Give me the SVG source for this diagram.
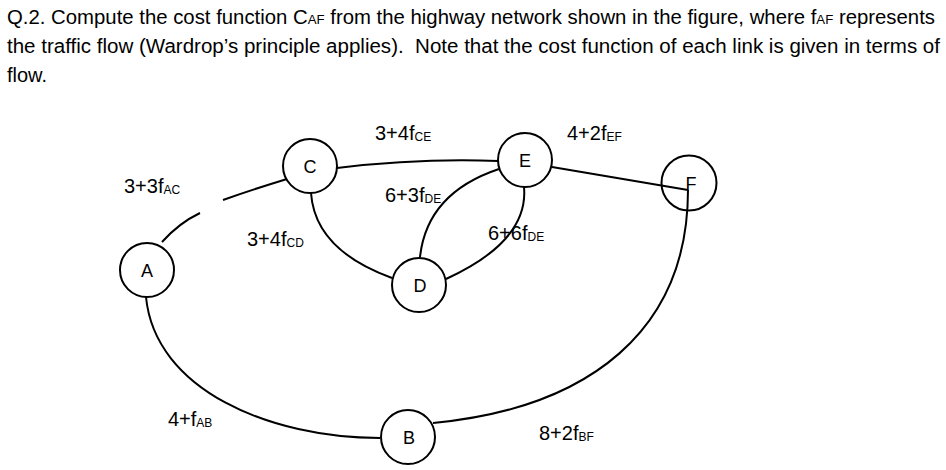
<svg xmlns="http://www.w3.org/2000/svg" width="946" height="470" viewBox="0 0 946 470">
<style>
text{font-family:"Liberation Sans",Arial,sans-serif;fill:#000}
.t{font-size:20px}
.ts{font-size:13px}
.lb{font-size:20px}
.sb{font-size:12px}
.nd{font-size:18px;text-anchor:middle}
circle{fill:#fff;stroke:#000;stroke-width:2}
.e{fill:none;stroke:#000;stroke-width:2}
</style>
<rect width="946" height="470" fill="#fff"/>
<g id="title">
<text class="t" x="7" y="24" textLength="928" lengthAdjust="spacingAndGlyphs">Q.2. Compute the cost function C<tspan class="ts">AF</tspan> from the highway network shown in the figure, where f<tspan class="ts">AF</tspan> represents</text>
<text class="t" x="7" y="53" textLength="933" lengthAdjust="spacingAndGlyphs" xml:space="preserve">the traffic flow (Wardrop’s principle applies).  Note that the cost function of each link is given in terms of</text>
<text class="t" x="7" y="82">flow.</text>
</g>
<g id="connectors">
<path class="e" d="M162,242 Q179,223 200,213"/>
<path class="e" d="M223,200 Q251,190 287,179"/>
<path class="e" d="M337,168 Q420,158 498,161"/>
<path class="e" d="M311,193 Q315,250 392,278"/>
<path class="e" d="M420,257 Q427,193 499,169"/>
<path class="e" d="M446,279 Q529,241 524,187"/>
<path class="e" d="M146,297 C155,390 270,438 380,438"/>
</g>
<g id="node-A"><circle cx="147" cy="270" r="27"/><text class="nd" x="147" y="276.5">A</text></g>
<g id="node-C"><circle cx="310" cy="166" r="27"/><text class="nd" x="310" y="172.5">C</text></g>
<g id="node-D"><circle cx="419" cy="285" r="27"/><text class="nd" x="420" y="291.5">D</text></g>
<g id="node-E"><circle cx="525" cy="160" r="27"/><text class="nd" x="525" y="166.5">E</text></g>
<g id="node-B"><circle cx="408" cy="437" r="27"/><text class="nd" x="409" y="443.5">B</text></g>
<g id="node-F"><circle cx="689" cy="183" r="27.5"/><text class="nd" x="691" y="190">F</text></g>
<g id="connectors-F">
<path class="e" d="M552,167 L688,190"/>
<path class="e" d="M688,190 C688,330 590,408 433,423"/>
</g>
<g id="labels">
<text class="lb" x="375" y="140">3+4f<tspan class="sb" dy="1">CE</tspan></text>
<text class="lb" x="567" y="140">4+2f<tspan class="sb" dy="1">EF</tspan></text>
<text class="lb" x="124" y="193">3+3f<tspan class="sb" dy="1">AC</tspan></text>
<text class="lb" x="385" y="202">6+3f<tspan class="sb" dy="1">DE</tspan></text>
<text class="lb" x="247" y="246">3+4f<tspan class="sb" dy="1">CD</tspan></text>
<text class="lb" x="488" y="240">6+6f<tspan class="sb" dy="1">DE</tspan></text>
<text class="lb" x="168" y="426">4+f<tspan class="sb" dy="1">AB</tspan></text>
<text class="lb" x="539" y="440">8+2f<tspan class="sb" dy="1">BF</tspan></text>
</g>
</svg>
